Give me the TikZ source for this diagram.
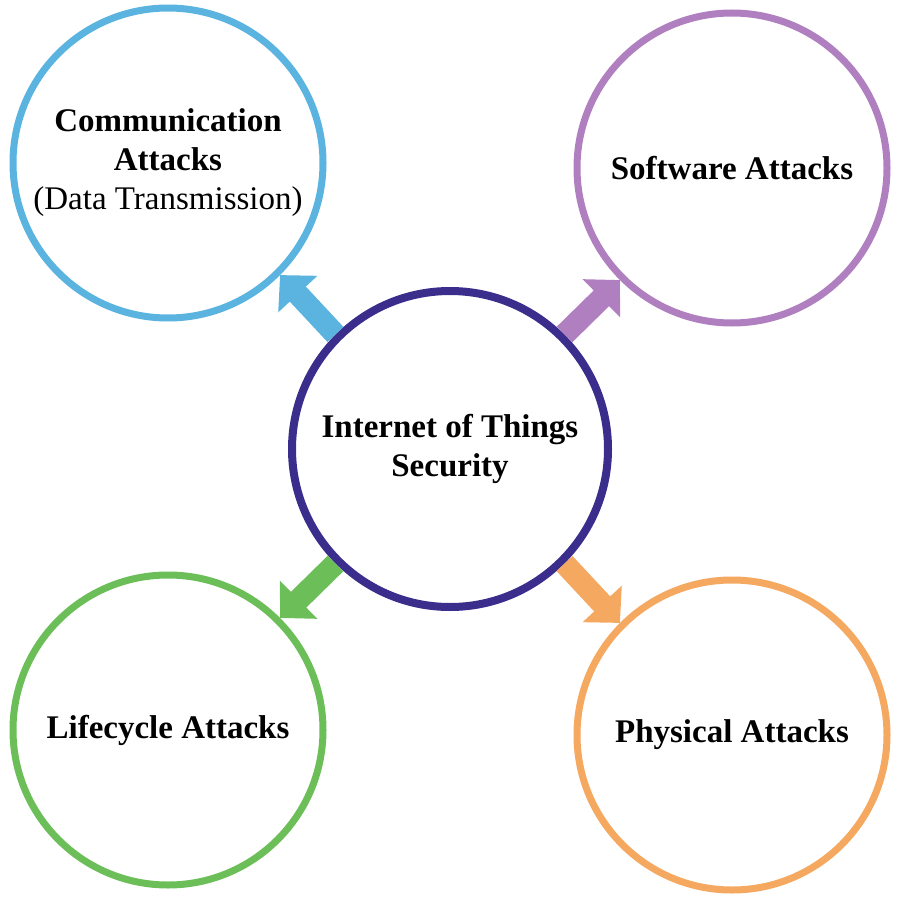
\documentclass[tikz,border=0pt]{standalone}
\usepackage{fontspec}
\setmainfont{Liberation Serif}
\usetikzlibrary{arrows.meta}
\definecolor{cblue}{HTML}{5BB4E0}
\definecolor{cpurple}{HTML}{B07FC0}
\definecolor{cnavy}{HTML}{3A2D8C}
\definecolor{cgreen}{HTML}{6CBF58}
\definecolor{corange}{HTML}{F5A860}
\begin{document}
\begin{tikzpicture}[x=1pt,y=-1pt,
  circ/.style={circle,draw=#1,line width=7pt,minimum size=310pt,inner sep=0pt,align=center,font=\fontsize{33}{39}\selectfont\bfseries},
  fat/.style={draw=#1,line width=22pt,-{Triangle[length=26pt,width=52pt]}}]
\useasboundingbox (0,0) rectangle (900,899);
\node[circ=cnavy,minimum size=316pt,line width=8pt] (c) at (450,449) {Internet of Things\\Security};
\node[circ=cblue] (tl) at (168,163) {Communication\\Attacks\\{\mdseries(Data Transmission)}};
\node[circ=cpurple] (tr) at (732,168) {Software Attacks};
\node[circ=cgreen] (bl) at (168,730) {Lifecycle Attacks};
\node[circ=corange] (br) at (732,735) {Physical Attacks};
\draw[fat=cblue] (c.135) -- (tl.-45);
\draw[fat=cpurple] (c.45) -- (tr.-135);
\draw[fat=cgreen] (c.-135) -- (bl.45);
\draw[fat=corange] (c.-45) -- (br.135);
\end{tikzpicture}
\end{document}
